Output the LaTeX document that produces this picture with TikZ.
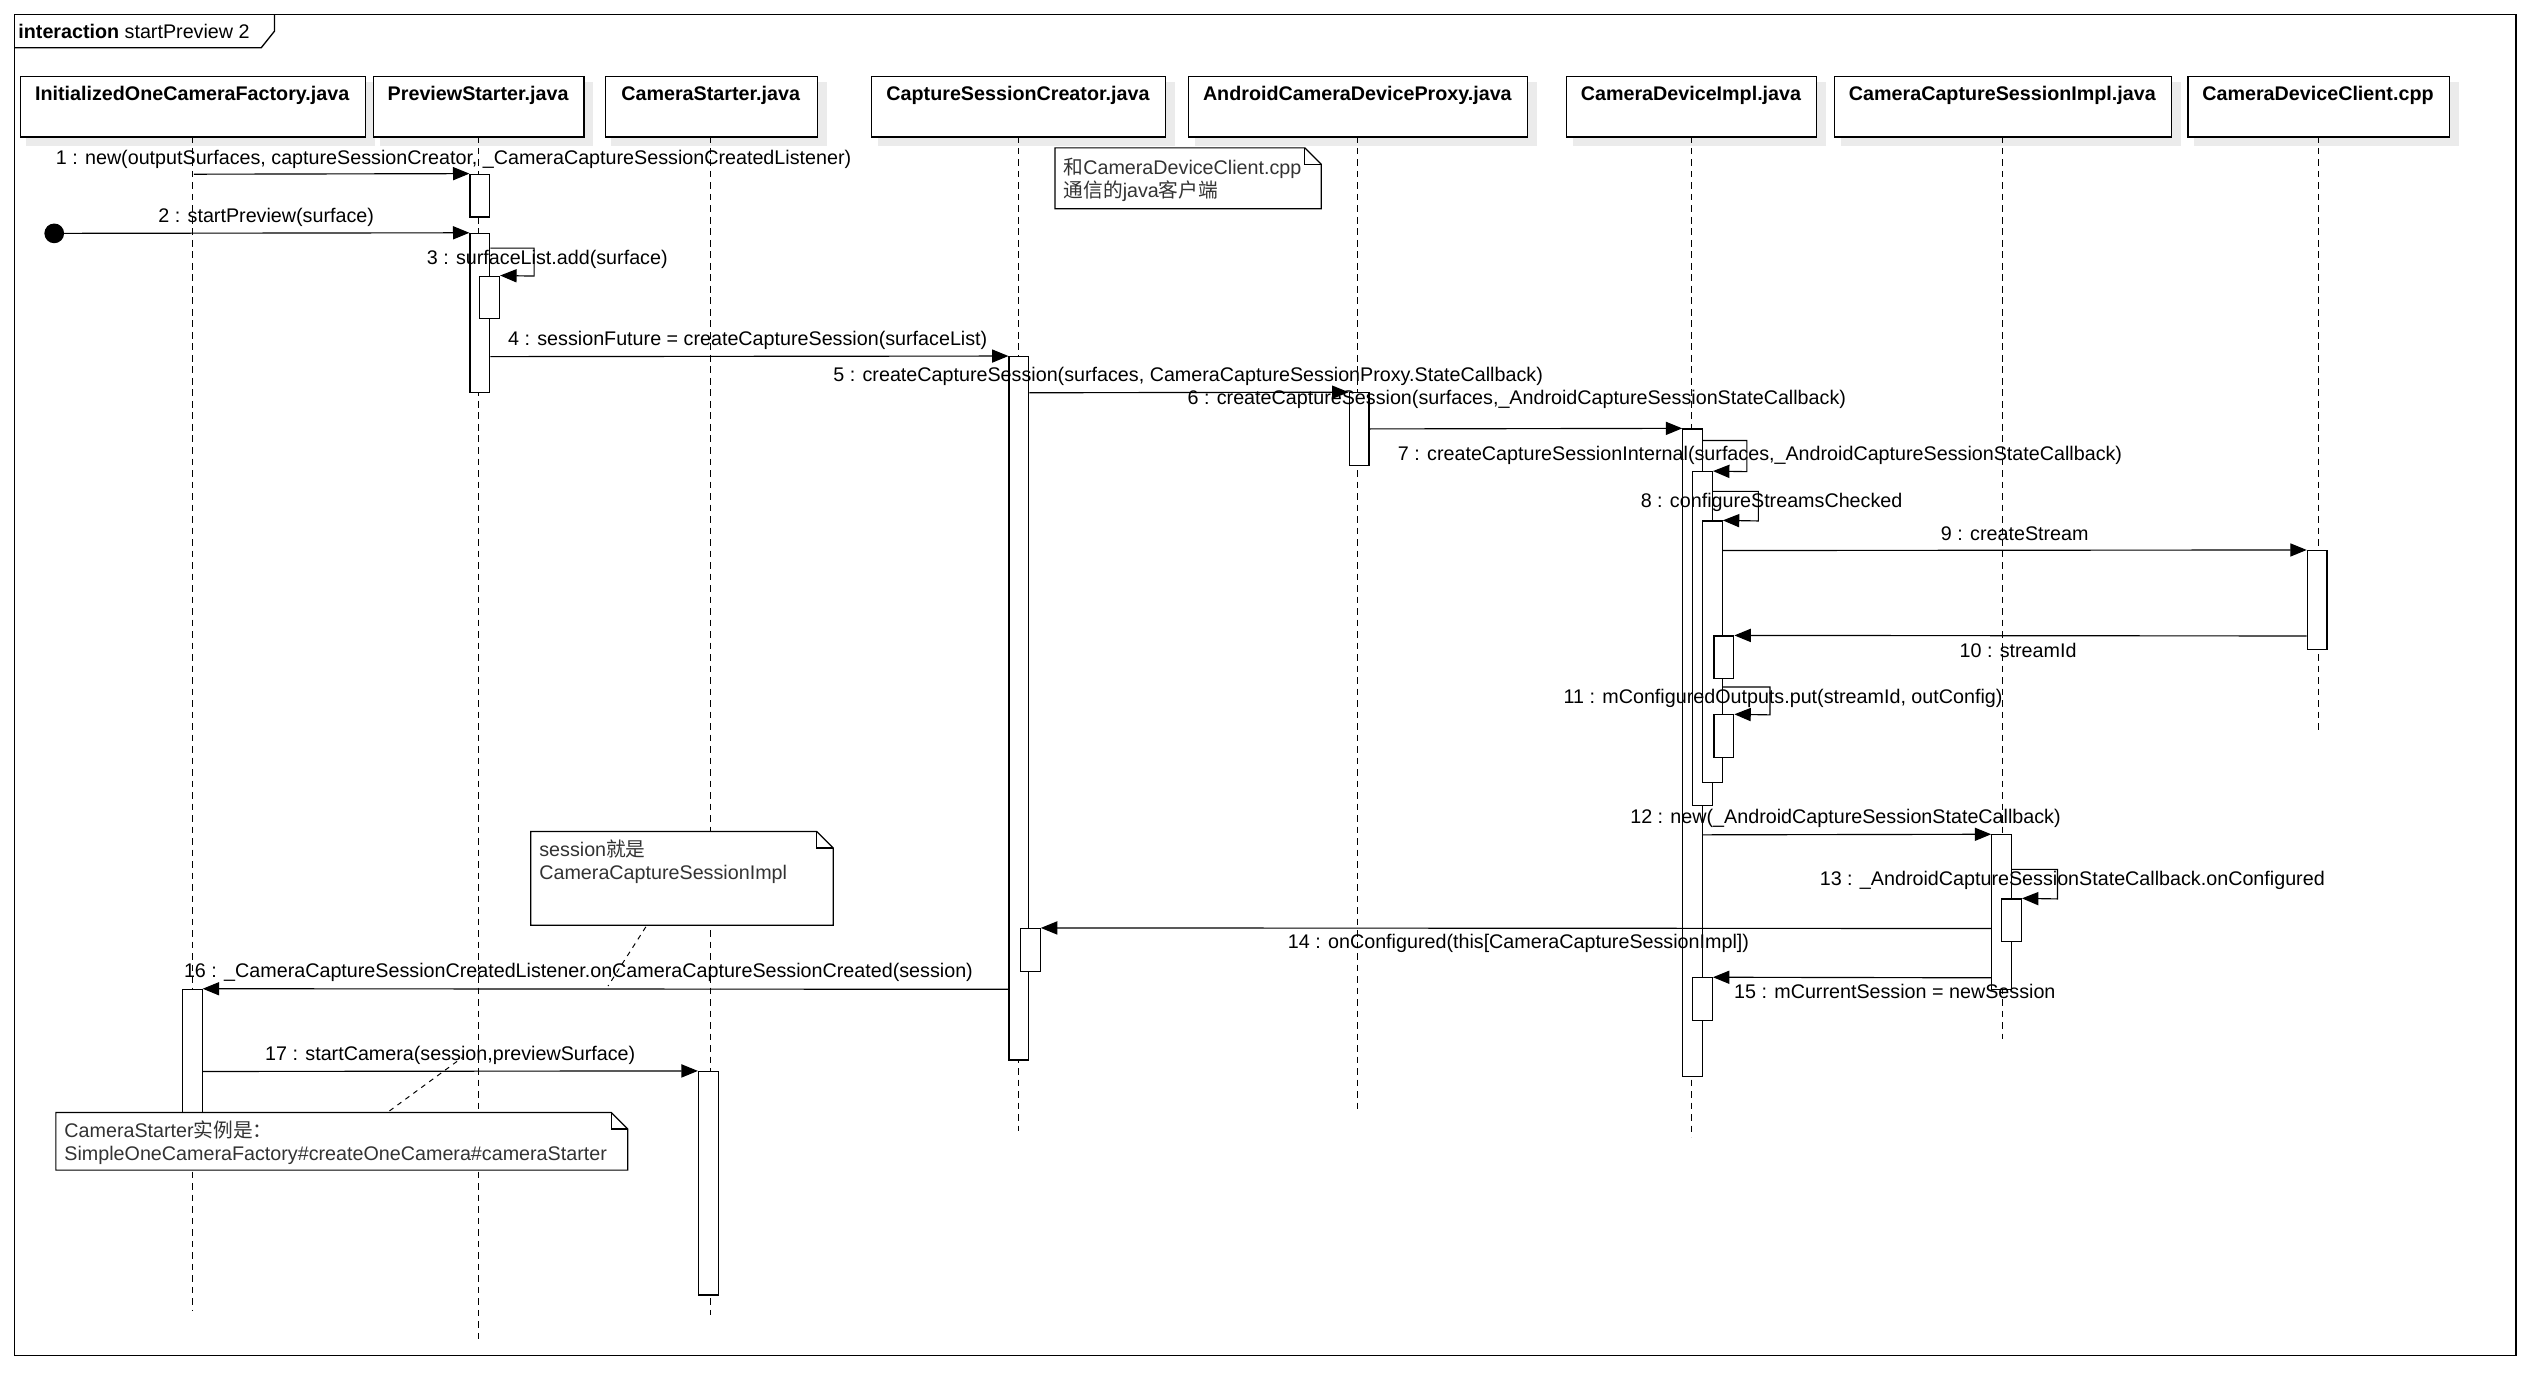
\documentclass[tikz,border=0pt]{standalone}
\usepackage{fontspec}
\setmainfont{Liberation Sans}
\newfontfamily\cjk{Noto Sans CJK SC}
\usetikzlibrary{arrows.meta,calc}
\begin{document}
\begin{tikzpicture}[x=1pt,y=-1pt,
  every node/.style={font=\fontsize{12}{14}\selectfont},
  obj/.style={draw,line width=0.8pt,fill=white,anchor=north west,inner sep=0pt,align=center},
  life/.style={dashed,line width=0.6pt,dash pattern=on 4pt off 3pt},
  act/.style={draw,line width=0.7pt,fill=white,minimum width=12pt,inner sep=0pt},
  msg/.style={line width=0.7pt,-{Triangle[length=10pt,width=8pt]}},
  lbl/.style={inner sep=0pt},
  note/.style={line width=0.7pt,fill=white},
  nt/.style={inner sep=0pt,anchor=north west,align=left,text=black!80}]
\useasboundingbox (0,0) rectangle (1545,849);
% frame
\draw[line width=0.8pt] (9,9) rectangle (1531,825);
\draw[line width=0.8pt] (9,29) -- (159,29) -- (167,19) -- (167,9);
\node[lbl,anchor=west] (title) at (11,19) {\textbf{interaction} startPreview 2};
% lifelines
\newcommand\lifeobj[5]{% name, x1, x2, label, end
  \fill[black!8] (#2+4,50) rectangle (#3+6,89);
  \draw[life] ({(#2+#3)/2},83) -- ({(#2+#3)/2},#5);
  \node[obj,minimum width={#3-#2},minimum height=37pt] (#1) at (#2,46) {};
  \node[lbl,anchor=center] (#1t) at ({(#2+#3)/2},58) {\textbf{#4}};}
\lifeobj{L1}{12}{222}{InitializedOneCameraFactory.java}{798}
\lifeobj{L2}{227}{355}{PreviewStarter.java}{815}
\lifeobj{L3}{368}{497}{CameraStarter.java}{800}
\lifeobj{L4}{530}{709}{CaptureSessionCreator.java}{688}
\lifeobj{L5}{723}{929}{AndroidCameraDeviceProxy.java}{676}
\lifeobj{L6}{953}{1105}{CameraDeviceImpl.java}{692}
\lifeobj{L7}{1116}{1321}{CameraCaptureSessionImpl.java}{632}
\lifeobj{L8}{1331}{1490}{CameraDeviceClient.cpp}{446}
\newcommand\act[4]{\node[act,minimum height={#4-#3}] (#1) at (#2,{(#3+#4)/2}) {};}
% activations
\act{a2a}{292}{106}{132}
\act{a2b}{292}{142}{239}
\act{a2c}{298}{168}{194}
\act{a4a}{620}{217}{645}
\act{a4b}{627}{565}{591}
\act{a5a}{827}{239}{283}
\act{a6a}{1030}{261}{655}
\act{a6b}{1036}{287}{490}
\act{a6c}{1042}{317}{476}
\act{a6d}{1049}{387}{413}
\act{a6e}{1049}{435}{461}
\act{a6f}{1036}{595}{621}
\act{a8a}{1410}{335}{395}
\act{a7a}{1218}{508}{602}
\act{a7b}{1224}{547}{573}
\act{a1a}{117}{602}{690}
\act{a3a}{431}{652}{788}
% messages
\draw[msg] (118,106) -- (a2a.north west);
\node[lbl] (m1) at (276,97) {1 : new(outputSurfaces, captureSessionCreator, \_CameraCaptureSessionCreatedListener)};
\fill (33,142) circle (6pt);
\coordinate (start) at (33,142);
\draw[msg] (start) -- (a2b.north west);
\node[lbl] (m2) at (162,132) {2 : startPreview(surface)};
\draw[msg] (a2b.east |- 0,151) -- (325,151) -- (325,168) -- (a2c.north east);
\node[lbl] (m3) at (333,158) {3 : surfaceList.add(surface)};
\draw[msg] (a2b.east |- 0,217) -- (a4a.north west);
\node[lbl] (m4) at (455,207) {4 : sessionFuture = createCaptureSession(surfaceList)};
\draw[msg] (a4a.east |- 0,239) -- (a5a.north west);
\node[lbl] (m5) at (723,229) {5 : createCaptureSession(surfaces, CameraCaptureSessionProxy.StateCallback)};
\draw[msg] (a5a.east |- 0,261) -- (a6a.north west);
\node[lbl] (m6) at (923,243) {6 : createCaptureSession(surfaces,\_AndroidCaptureSessionStateCallback)};
\draw[msg] (a6a.east |- 0,268) -- (1063,268) -- (1063,287) -- (a6b.north east);
\node[lbl] (m7) at (1071,277) {7 : createCaptureSessionInternal(surfaces,\_AndroidCaptureSessionStateCallback)};
\draw[msg] (a6b.east |- 0,299) -- (1070,299) -- (1070,317) -- (a6c.north east);
\node[lbl] (m8) at (1078,306) {8 : configureStreamsChecked};
\draw[msg] (a6c.east |- 0,335) -- (a8a.north west);
\node[lbl] (m9) at (1226,325) {9 : createStream};
\draw[msg] (a8a.west |- 0,387) -- (a6d.north east);
\node[lbl] (m10) at (1228,396) {10 : streamId};
\draw[msg] (a6c.east |- 0,418) -- (1077,418) -- (1077,435) -- (a6e.north east);
\node[lbl] (m11) at (1085,425) {11 : mConfiguredOutputs.put(streamId, outConfig)};
\draw[msg] (a6a.east |- 0,508) -- (a7a.north west);
\node[lbl] (m12) at (1123,498) {12 : new(\_AndroidCaptureSessionStateCallback)};
\draw[msg] (a7a.east |- 0,529) -- (1252,529) -- (1252,547) -- (a7b.north east);
\node[lbl] (m13) at (1261,536) {13 : \_AndroidCaptureSessionStateCallback.onConfigured};
\draw[msg] (a7a.west |- 0,565) -- (a4b.north east);
\node[lbl] (m14) at (924,574) {14 : onConfigured(this[CameraCaptureSessionImpl])};
\draw[msg] (a7a.west |- 0,595) -- (a6f.north east);
\node[lbl] (m15) at (1153,603) {15 : mCurrentSession = newSession};
\draw[msg] (a4a.west |- 0,602) -- (a1a.north east);
\node[lbl] (m16) at (352,592) {16 : \_CameraCaptureSessionCreatedListener.onCameraCaptureSessionCreated(session)};
\draw[msg] (a1a.east |- 0,652) -- (a3a.north west);
\node[lbl] (m17) at (274,642) {17 : startCamera(session,previewSurface)};
% notes
\newcommand\note[5]{% name x1 y1 x2 y2
  \draw[note] (#2,#3) -- (#4-10,#3) -- (#4,#3+10) -- (#4,#5) -- (#2,#5) -- cycle;
  \draw[line width=0.7pt] (#4-10,#3) -- (#4-10,#3+10) -- (#4,#3+10);
  \coordinate (#1) at (#2,#3);}
\note{n1}{642}{90}{804}{127}
\node[nt] (n1t) at (647,96) {{\cjk 和}CameraDeviceClient.cpp\\{\cjk 通信的}java{\cjk 客户端}};
\note{n2}{323}{506}{507}{563}
\node[nt] (n2t) at (328,511) {session{\cjk 就是}\\CameraCaptureSessionImpl};
\draw[dashed,line width=0.6pt] (393,564) -- (370,600);
\note{n3}{34}{677}{382}{712}
\node[nt] (n3t) at (39,682) {CameraStarter{\cjk 实例是：}\\SimpleOneCameraFactory\#createOneCamera\#cameraStarter};
\draw[dashed,line width=0.6pt] (237,676) -- (282,643);
\end{tikzpicture}
\end{document}
